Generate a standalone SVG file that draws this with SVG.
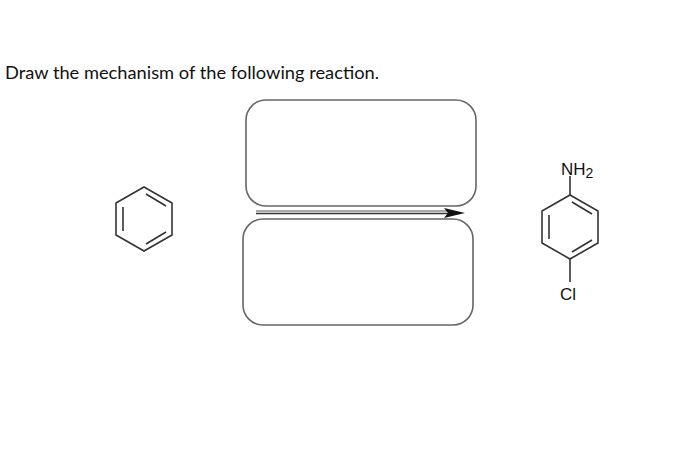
<svg xmlns="http://www.w3.org/2000/svg" width="700" height="463" viewBox="0 0 700 463">
<style>
.b{fill:none;stroke:#666;stroke-width:1.6}
.m{fill:none;stroke:#333;stroke-width:1.6}
.t{font-family:"Liberation Sans",Arial,sans-serif;fill:#111}
</style>
<rect width="700" height="463" fill="#fff"/>
<text x="5" y="79" font-size="17" style="font-family:Lato,'Liberation Sans',sans-serif;fill:#111" textLength="374" lengthAdjust="spacingAndGlyphs">Draw the mechanism of the following reaction.</text>
<g id="box-top"><rect class="b" x="246" y="100" width="230" height="106" rx="20"/></g>
<g id="box-bottom"><rect class="b" x="243" y="219" width="230" height="106" rx="20"/></g>
<g id="benzene">
<polygon class="m" points="144,187 172,203 172,235 144,251 116,235 116,203"/>
<line class="m" x1="123" y1="207" x2="123" y2="231"/>
<line class="m" x1="146" y1="194" x2="166" y2="206"/>
<line class="m" x1="146" y1="244" x2="166" y2="232"/>
</g>
<g id="connectors">
<line x1="256" y1="211" x2="450" y2="211" stroke="#555" stroke-width="1"/>
<line x1="256" y1="213.5" x2="450" y2="213.5" stroke="#333" stroke-width="1.5"/>
<polygon points="465,213 444,208 448,213 444,218" fill="#111"/>
</g>
<g id="product">
<polygon class="m" points="570,195 598,211 598,243 570,259 542,243 542,211"/>
<line class="m" x1="549" y1="215" x2="549" y2="239"/>
<line class="m" x1="572" y1="202" x2="592" y2="214"/>
<line class="m" x1="572" y1="252" x2="592" y2="240"/>
<line class="m" x1="570" y1="195" x2="570" y2="176"/>
<line class="m" x1="570" y1="259" x2="570" y2="282"/>
<text class="t" x="561" y="175" font-size="17">NH<tspan font-size="14" dy="3">2</tspan></text>
<text class="t" x="560" y="300" font-size="17">Cl</text>
</g>
</svg>
